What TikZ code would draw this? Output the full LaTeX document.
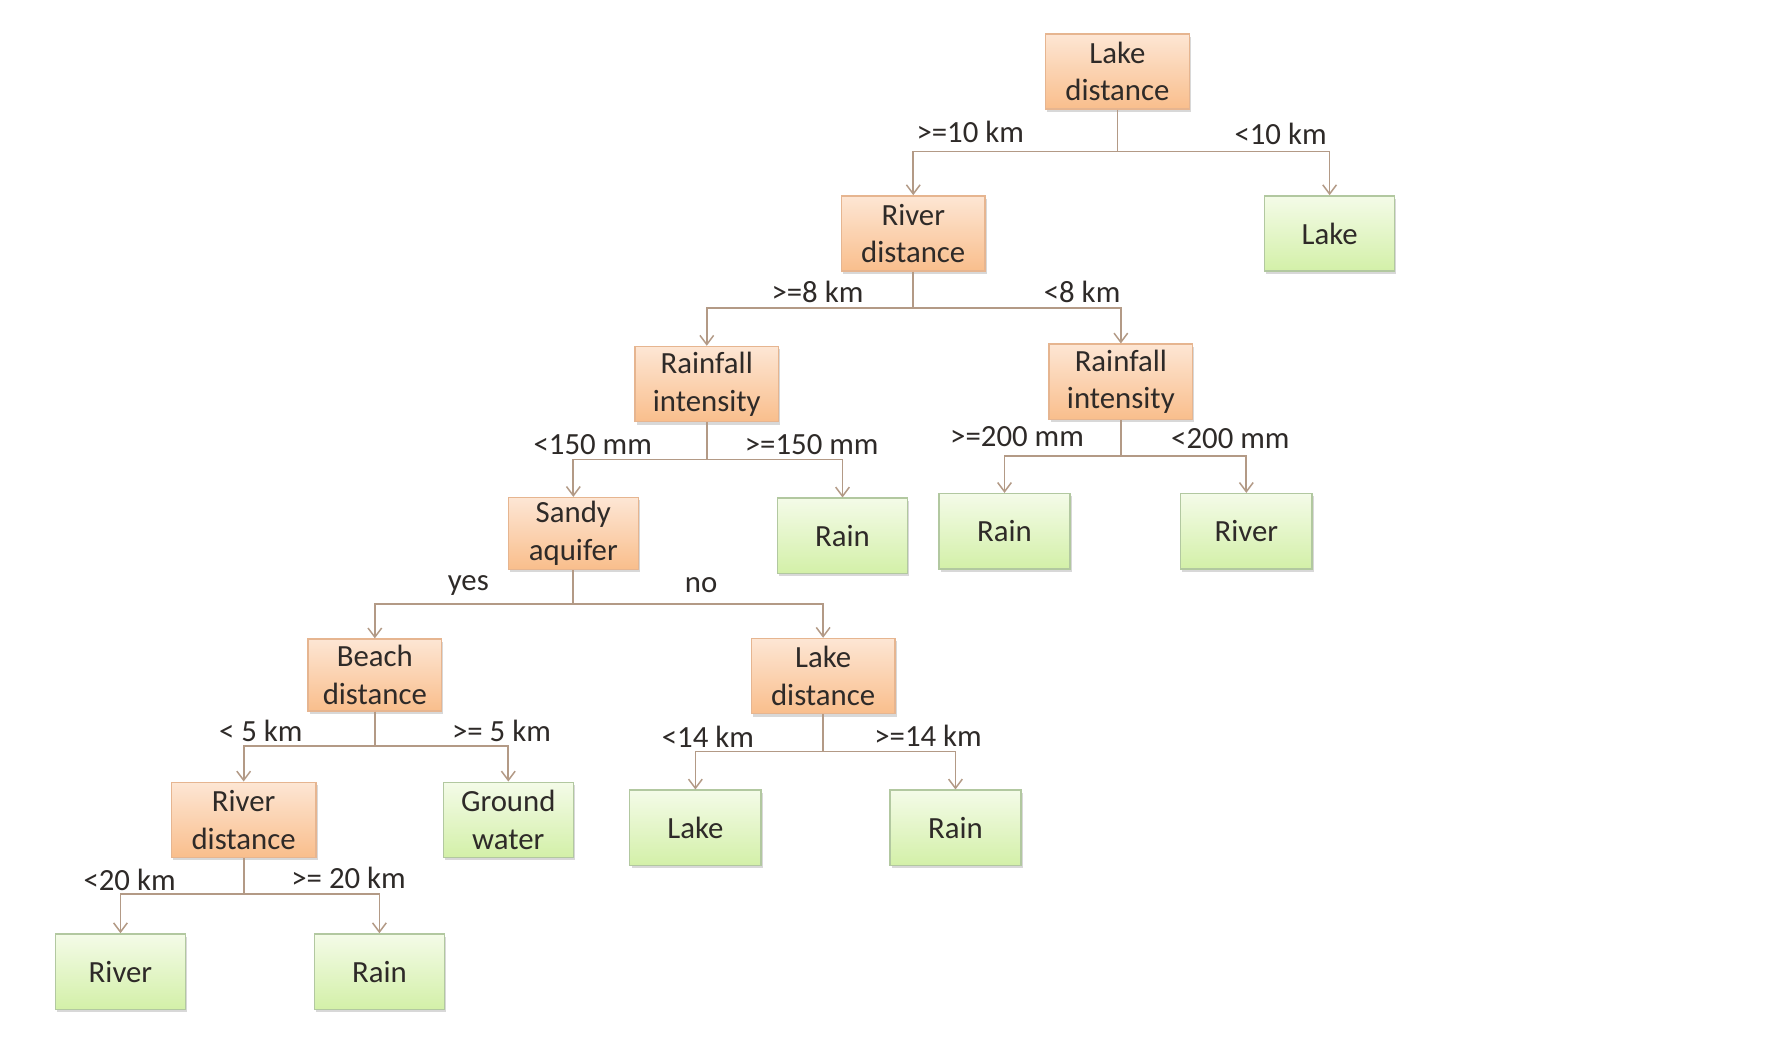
\documentclass[tikz,border=0pt]{standalone}
\usepackage{fontspec}
\setmainfont{Carlito}
\usetikzlibrary{arrows.meta,shadows}
\definecolor{txt}{HTML}{2E2A28}
\definecolor{conn}{HTML}{B39A86}
\definecolor{obord}{HTML}{E6B590}
\definecolor{otop}{HTML}{FDE6D4}
\definecolor{obot}{HTML}{F9BE8C}
\definecolor{gbord}{HTML}{B2C8A0}
\definecolor{gtop}{HTML}{F4FBE8}
\definecolor{gbot}{HTML}{D3F0A8}
\tikzset{
  box/.style={rectangle, minimum height=66pt, inner sep=0pt, align=center,
    text=txt, font=\fontsize{27}{33}\selectfont, line width=1.2pt,
    drop shadow={shadow xshift=1.5pt, shadow yshift=-2.5pt, opacity=0.25, fill=black!60}},
  dec/.style={box, draw=obord, top color=otop, bottom color=obot},
  leaf/.style={box, draw=gbord, top color=gtop, bottom color=gbot},
  lbl/.style={text=txt, font=\fontsize{27}{33}\selectfont, inner sep=0pt},
  conn/.style={draw=conn, line width=1.5pt},
  arr/.style={conn, -{Straight Barb[length=8pt,width=12pt,line width=1.3pt]}}
}
\begin{document}
\begin{tikzpicture}[x=1pt,y=-1pt]
\useasboundingbox (-0.6,0.3) rectangle (1568.6,924.4);
\fill[white] (-0.6,0.3) rectangle (1568.6,924.4);
% nodes
\node[dec, minimum width=126pt] (n1) at (979,63) {Lake\\distance};
\node[dec, minimum width=126pt] (n2) at (800,205) {River\\distance};
\node[leaf, minimum width=114pt] (n3) at (1165,205) {Lake};
\node[dec, minimum width=126pt] (n4) at (619,337) {Rainfall\\intensity};
\node[dec, minimum width=126pt] (n5) at (982,335) {Rainfall\\intensity};
\node[dec, minimum width=114pt, minimum height=63pt] (n6) at (502,468) {Sandy\\aquifer};
\node[leaf, minimum width=114pt] (n7) at (738,470) {Rain};
\node[leaf, minimum width=115pt] (n8) at (880,466) {Rain};
\node[leaf, minimum width=115pt] (n9) at (1092,466) {River};
\node[dec, minimum width=117pt, minimum height=63pt] (n10) at (328,592) {Beach\\distance};
\node[dec, minimum width=126pt] (n11) at (721,593) {Lake\\distance};
\node[dec, minimum width=127pt] (n12) at (213,719) {River\\distance};
\node[leaf, minimum width=114pt] (n13) at (445,719) {Ground\\water};
\node[leaf, minimum width=115pt] (n14) at (609,726) {Lake};
\node[leaf, minimum width=115pt] (n15) at (837,726) {Rain};
\node[leaf, minimum width=114pt] (n16) at (105,852) {River};
\node[leaf, minimum width=114pt] (n17) at (332,852) {Rain};
% connectors
\draw[arr] (n1.south) -- (n1.south |- 0,133) -| (n2.north);
\draw[arr] (n1.south) -- (n1.south |- 0,133) -| (n3.north);
\draw[arr] (n2.south) -- (n2.south |- 0,270) -| (n4.north);
\draw[arr] (n2.south) -- (n2.south |- 0,270) -| (n5.north);
\draw[arr] (n4.south) -- (n4.south |- 0,403) -| (n6.north);
\draw[arr] (n4.south) -- (n4.south |- 0,403) -| (n7.north);
\draw[arr] (n5.south) -- (n5.south |- 0,400) -| (n8.north);
\draw[arr] (n5.south) -- (n5.south |- 0,400) -| (n9.north);
\draw[arr] (n6.south) -- (n6.south |- 0,530) -| (n10.north);
\draw[arr] (n6.south) -- (n6.south |- 0,530) -| (n11.north);
\draw[arr] (n10.south) -- (n10.south |- 0,654) -| (n12.north);
\draw[arr] (n10.south) -- (n10.south |- 0,654) -| (n13.north);
\draw[arr] (n11.south) -- (n11.south |- 0,659) -| (n14.north);
\draw[arr] (n11.south) -- (n11.south |- 0,659) -| (n15.north);
\draw[arr] (n12.south) -- (n12.south |- 0,784) -| (n16.north);
\draw[arr] (n12.south) -- (n12.south |- 0,784) -| (n17.north);
% labels
\node[lbl] (l1) at (850,116) {>=10 km};
\node[lbl] (l2) at (1122,118) {<10 km};
\node[lbl] (l3) at (716,256) {>=8 km};
\node[lbl] (l4) at (948,256) {<8 km};
\node[lbl] (l5) at (519,390) {<150 mm};
\node[lbl] (l6) at (711,390) {>=150 mm};
\node[lbl] (l7) at (891,383) {>=200 mm};
\node[lbl] (l8) at (1078,385) {<200 mm};
\node[lbl] (l9) at (410,514) {yes};
\node[lbl] (l10) at (614,513) {no};
\node[lbl] (l11) at (228,641) {< 5 km};
\node[lbl] (l12) at (439,641) {>= 5 km};
\node[lbl] (l13) at (620,646) {<14 km};
\node[lbl] (l14) at (813,645) {>=14 km};
\node[lbl] (l15) at (113,772) {<20 km};
\node[lbl] (l16) at (305,770) {>= 20 km};
\end{tikzpicture}
\end{document}
